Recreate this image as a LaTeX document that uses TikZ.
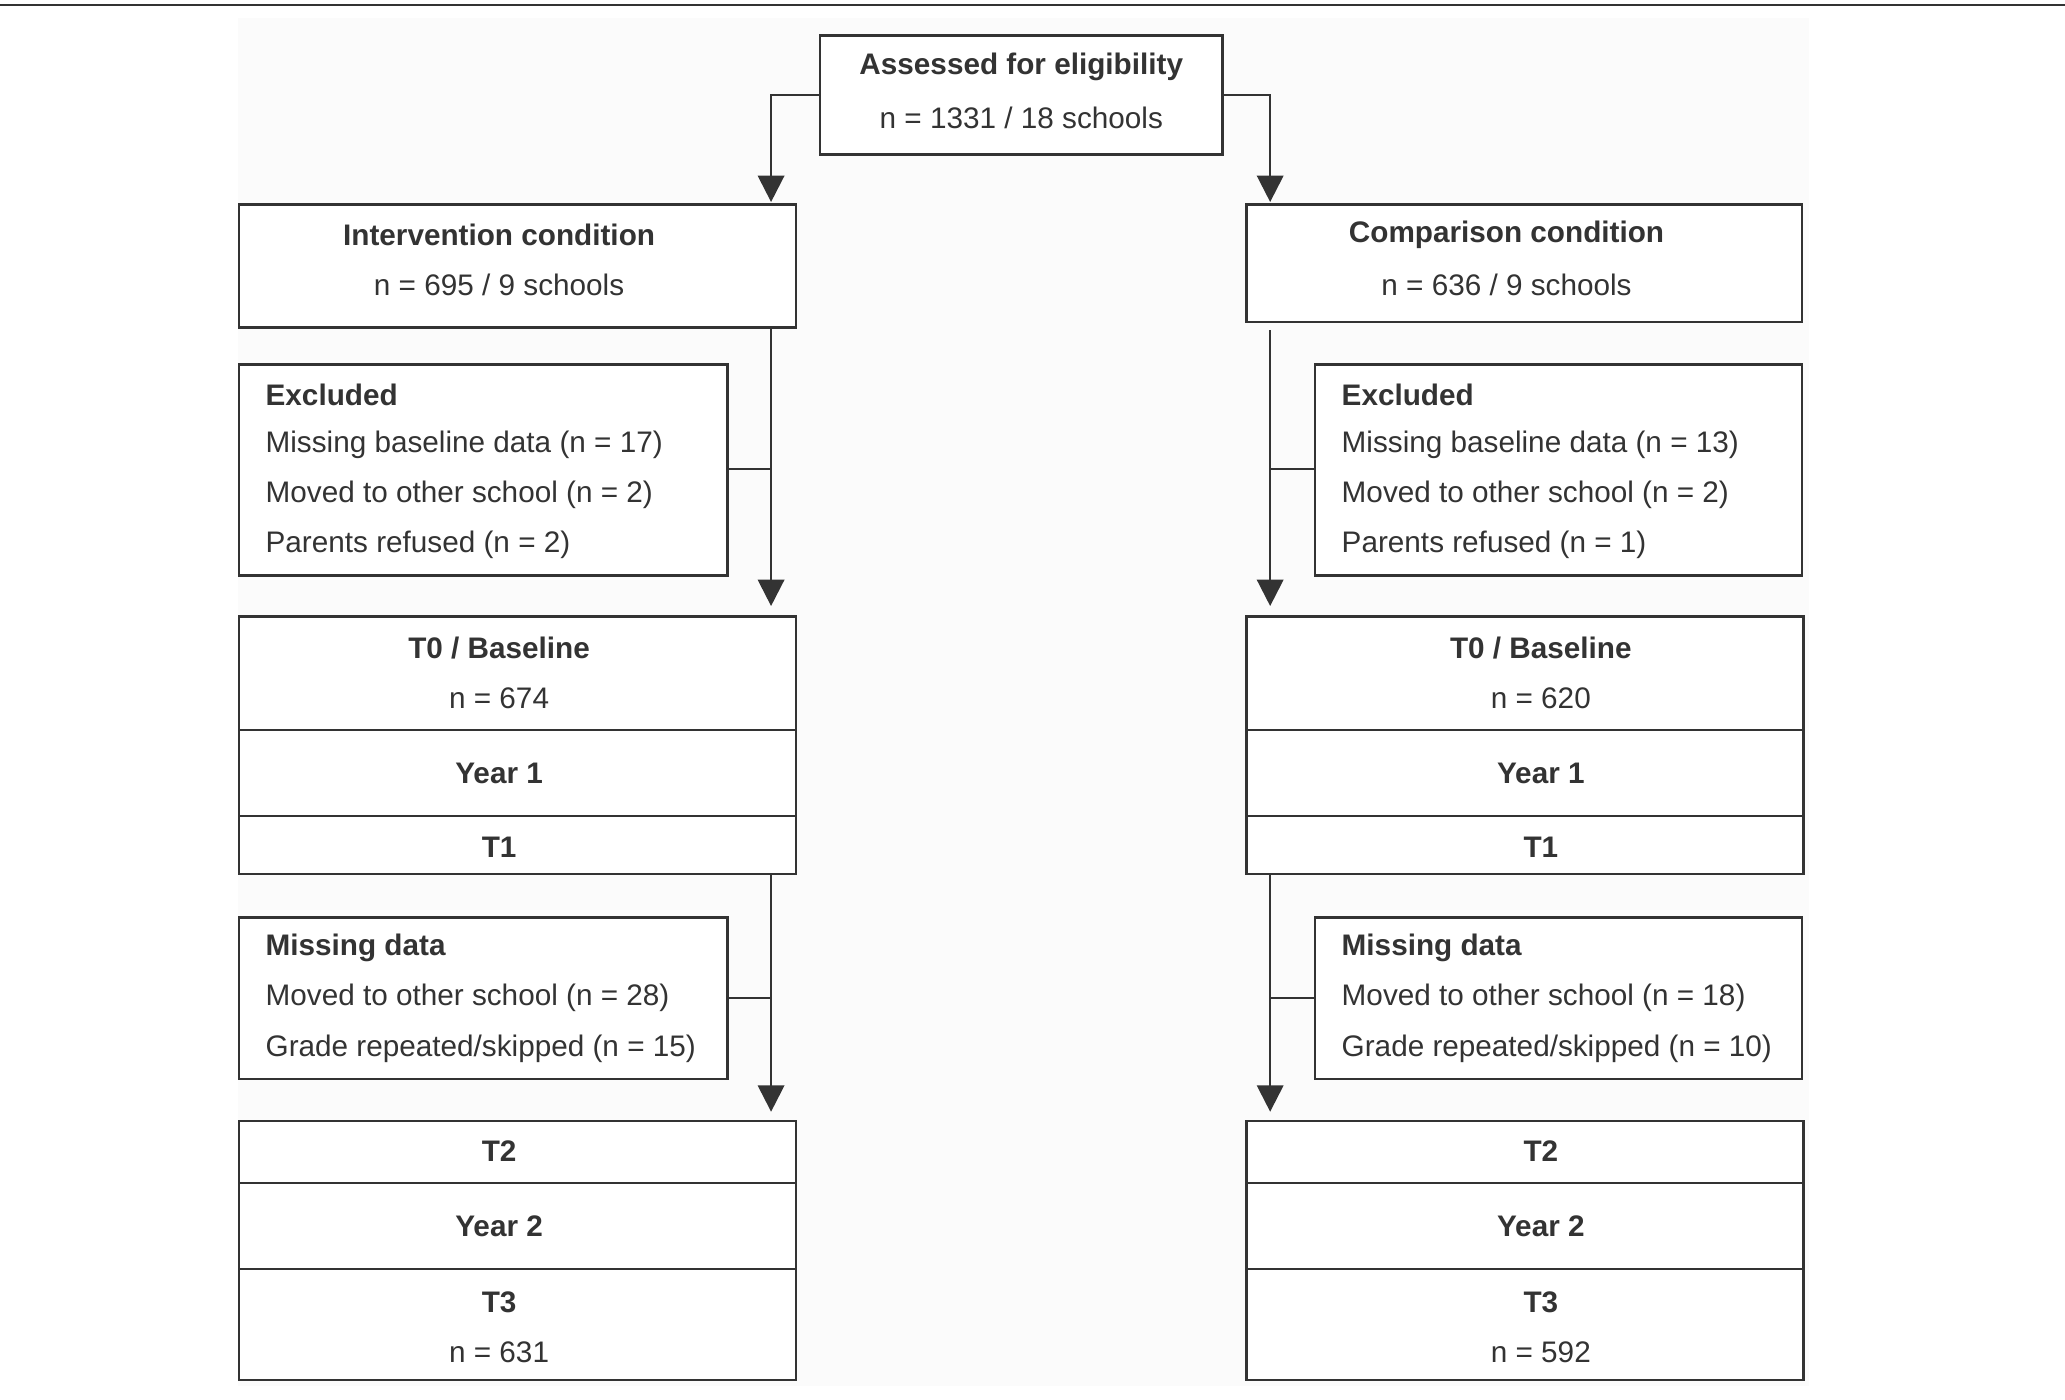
\documentclass[tikz,border=0pt]{standalone}
\usepackage{fontspec}
\setmainfont{Liberation Sans}
\usetikzlibrary{arrows.meta}
\definecolor{ink}{HTML}{333333}
\begin{document}
\begin{tikzpicture}[x=1pt,y=-1pt,
  bx/.style={draw=ink,line width=1.8pt,fill=white},
  ln/.style={draw=ink,line width=1.8pt},
  ar/.style={ln,-{Triangle[length=20pt,width=20pt]}},
  tx/.style={font=\fontsize{22.5}{26}\selectfont,text=ink,inner sep=0pt},
  hd/.style={tx,font=\fontsize{22.5}{26}\selectfont\bfseries}]
\useasboundingbox (0,0) rectangle (1564,1060);
\fill[white] (0,0) rectangle (1564,1060);
\fill[black!1.5] (180,14) rectangle (1370,1050);
\draw[ink,line width=1.5pt] (0,4) -- (1564,4);
% top
\draw[bx] (621,27) rectangle (926,117);
\node[hd] (top) at (773.5,51) {Assessed for eligibility};
\node[tx] (top2) at (773.5,89) {n = 1331 / 18 schools};
\coordinate (tl) at (621,72); \coordinate (tr) at (926,72);
\coordinate (la) at (584,153); \coordinate (ra) at (962,153);
\draw[ar] (tl) -| (la);
\draw[ar] (tr) -| (ra);
% condition boxes
\draw[bx] (181,155) rectangle (603,248);
\node[hd] (ic) at (378,178) {Intervention condition};
\node[tx] (ic2) at (378,216) {n = 695 / 9 schools};
\draw[bx] (944,155) rectangle (1365,244);
\node[hd] (cc) at (1141,178) {Comparison condition};
\node[tx] (cc2) at (1141,216) {n = 636 / 9 schools};
% excluded
\draw[bx] (181,276) rectangle (551,436);
\node[hd,anchor=west] (le) at (201,299) {Excluded};
\node[tx,anchor=west] at (201,337) {Missing baseline data (n = 17)};
\node[tx,anchor=west] at (201,375) {Moved to other school (n = 2)};
\node[tx,anchor=west] at (201,413) {Parents refused (n = 2)};
\draw[bx] (996,276) rectangle (1365,436);
\node[hd,anchor=west] (re) at (1016,299) {Excluded};
\node[tx,anchor=west] at (1016,337) {Missing baseline data (n = 13)};
\node[tx,anchor=west] at (1016,375) {Moved to other school (n = 2)};
\node[tx,anchor=west] at (1016,413) {Parents refused (n = 1)};
\coordinate (l1) at (584,248); \coordinate (l2) at (584,459);
\coordinate (r1) at (962,250); \coordinate (r2) at (962,459);
\draw[ar] (l1) -- (l2);
\draw[ar] (r1) -- (r2);
\draw[ln] (551,355) -- (584,355);
\draw[ln] (962,355) -- (996,355);
% T0 blocks
\foreach \x/\n/\c in {181/674/378, 944/620/1167}{
  \draw[bx] (\x,467) rectangle ++(422,195);
  \draw[ln] (\x,553) -- ++(422,0);
  \draw[ln] (\x,618) -- ++(422,0);
  \node[hd] at (\c,491) {T0 / Baseline};
  \node[tx] at (\c,529) {n = \n};
  \node[hd] at (\c,586) {Year 1};
  \node[hd] at (\c,642) {T1};
}
% missing
\draw[bx] (181,695) rectangle (551,817);
\node[hd,anchor=west] at (201,718) {Missing data};
\node[tx,anchor=west] at (201,756) {Moved to other school (n = 28)};
\node[tx,anchor=west] at (201,794) {Grade repeated/skipped (n = 15)};
\draw[bx] (996,695) rectangle (1365,817);
\node[hd,anchor=west] at (1016,718) {Missing data};
\node[tx,anchor=west] at (1016,756) {Moved to other school (n = 18)};
\node[tx,anchor=west] at (1016,794) {Grade repeated/skipped (n = 10)};
\coordinate (l3) at (584,662); \coordinate (l4) at (584,842);
\coordinate (r3) at (962,662); \coordinate (r4) at (962,842);
\draw[ar] (l3) -- (l4);
\draw[ar] (r3) -- (r4);
\draw[ln] (551,756) -- (584,756);
\draw[ln] (962,756) -- (996,756);
% bottom blocks
\foreach \x/\n/\c in {181/631/378, 944/592/1167}{
  \draw[bx] (\x,849) rectangle ++(422,196);
  \draw[ln] (\x,896) -- ++(422,0);
  \draw[ln] (\x,961) -- ++(422,0);
  \node[hd] at (\c,872) {T2};
  \node[hd] at (\c,929) {Year 2};
  \node[hd] at (\c,986) {T3};
  \node[tx] at (\c,1024) {n = \n};
}
\end{tikzpicture}
\end{document}
